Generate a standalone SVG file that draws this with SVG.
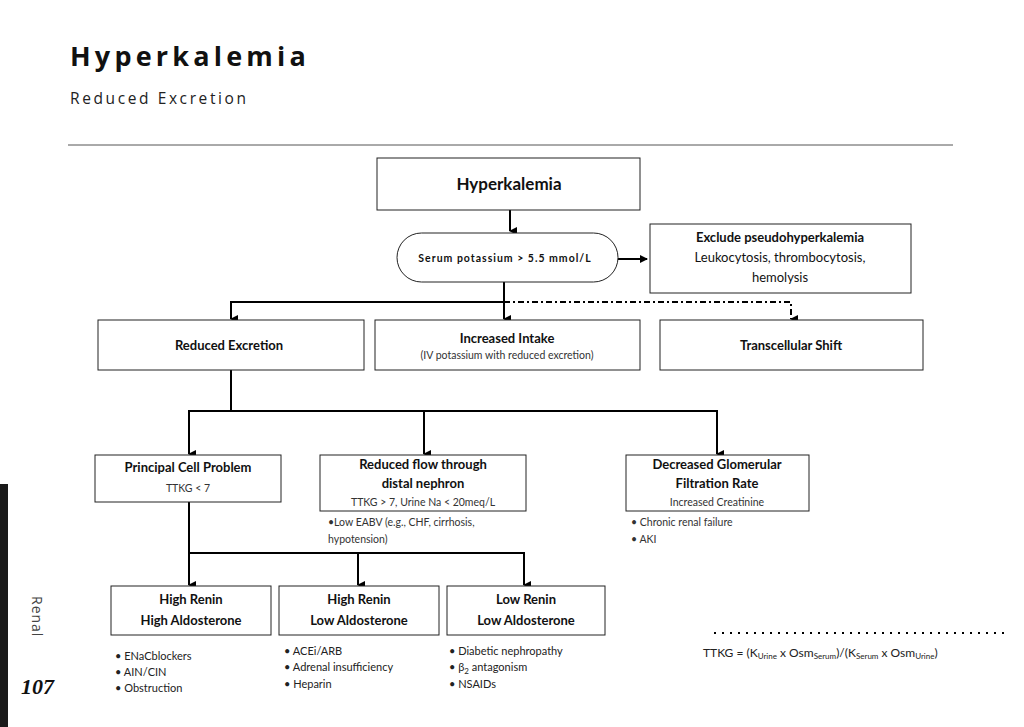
<svg xmlns="http://www.w3.org/2000/svg" width="1024" height="727" viewBox="0 0 1024 727">
<style>
text{font-family:Lato,"Open Sans","Liberation Sans",sans-serif;fill:#111}
.b{font-weight:bold;font-size:13px}
.s{font-size:10.5px;fill:#333}
.l{font-size:11px;fill:#222}
.box{fill:#fff;stroke:#222;stroke-width:1}
.c{fill:none;stroke:#000;stroke-width:2}
</style>
<defs>
<marker id="ah" markerWidth="10" markerHeight="10" refX="5" refY="8" orient="auto" markerUnits="userSpaceOnUse" viewBox="0 0 10 10">
<path d="M1,1 L5,9 L9,1 Z" fill="#000"/>
</marker>
<marker id="ahr" markerWidth="10" markerHeight="10" refX="8" refY="5" orient="auto" markerUnits="userSpaceOnUse" viewBox="0 0 10 10">
<path d="M1,1 L9,5 L1,9 Z" fill="#000"/>
</marker>
</defs>
<rect width="1024" height="727" fill="#fff"/>
<text x="70" y="66" style="font-family:'Open Sans',sans-serif;font-weight:bold;font-size:27px;letter-spacing:4.2px">Hyperkalemia</text>
<text x="70" y="104" style="font-family:'Open Sans',sans-serif;font-size:15.5px;letter-spacing:2.6px;fill:#222">Reduced Excretion</text>
<line x1="68" y1="145" x2="953" y2="145" stroke="#555" stroke-width="1"/>
<rect x="0" y="484" width="8" height="243" fill="#1a1a1a"/>
<text transform="translate(32,596) rotate(90)" style="font-family:'Open Sans',sans-serif;font-size:14px;fill:#444;letter-spacing:1px">Renal</text>
<text x="21" y="694" style="font-family:'Liberation Serif',serif;font-style:italic;font-weight:bold;font-size:22px">107</text>
<g id="connectors">
<line class="c" x1="510" y1="210" x2="510" y2="231" marker-end="url(#ah)"/>
<line class="c" x1="618" y1="259" x2="647" y2="259" stroke-width="1.5" marker-end="url(#ahr)"/>
<line class="c" x1="504" y1="282" x2="504" y2="319" marker-end="url(#ah)"/>
<polyline class="c" points="504,302 231,302 231,319" marker-end="url(#ah)"/>
<polyline class="c" points="504,302 791,302 791,319" stroke-dasharray="6,3,2,3" marker-end="url(#ah)"/>
<line class="c" x1="231" y1="370" x2="231" y2="411"/>
<polyline class="c" points="189,454 189,411 717,411 717,454" marker-end="url(#ah)"/>
<line class="c" x1="189" y1="411" x2="189" y2="454" marker-end="url(#ah)"/>
<line class="c" x1="424" y1="411" x2="424" y2="454" marker-end="url(#ah)"/>
<line class="c" x1="189" y1="502" x2="189" y2="585" stroke-width="1.5" marker-end="url(#ah)"/>
<polyline class="c" points="189,553 524,553 524,585" stroke-width="1.5" marker-end="url(#ah)"/>
<line class="c" x1="358" y1="553" x2="358" y2="585" marker-end="url(#ah)"/>
</g>
<g id="n-hyperkalemia"><rect class="box" x="377" y="158" width="263" height="52"/><text x="509" y="190" text-anchor="middle" style="font-weight:bold;font-size:17px">Hyperkalemia</text></g>
<g id="n-serum"><rect class="box" x="397" y="233" width="221" height="49" rx="24.5"/><text x="505" y="262" text-anchor="middle" style="font-weight:bold;font-size:10.5px;letter-spacing:1px">Serum potassium &gt; 5.5 mmol/L</text></g>
<g id="n-exclude"><rect class="box" x="650" y="224" width="261" height="69"/><text x="780" y="242" text-anchor="middle" class="b">Exclude pseudohyperkalemia</text><text x="780" y="262" text-anchor="middle" style="font-size:13px">Leukocytosis, thrombocytosis,</text><text x="780" y="282" text-anchor="middle" style="font-size:13px">hemolysis</text></g>
<g id="n-reduced"><rect class="box" x="98" y="320" width="266" height="50"/><text x="229" y="350" text-anchor="middle" class="b">Reduced Excretion</text></g>
<g id="n-intake"><rect class="box" x="375" y="320" width="265" height="50"/><text x="507" y="343" text-anchor="middle" class="b">Increased Intake</text><text x="507" y="359" text-anchor="middle" class="s">(IV potassium  with reduced excretion)</text></g>
<g id="n-shift"><rect class="box" x="660" y="320" width="263" height="50"/><text x="791" y="350" text-anchor="middle" class="b">Transcellular Shift</text></g>
<g id="n-principal"><rect class="box" x="95" y="455" width="186" height="47"/><text x="188" y="472" text-anchor="middle" class="b">Principal Cell Problem</text><text x="188" y="492" text-anchor="middle" class="s">TTKG &lt; 7</text></g>
<g id="n-flow"><rect class="box" x="320" y="455" width="206" height="56"/><text x="423" y="469" text-anchor="middle" class="b">Reduced flow through</text><text x="423" y="488" text-anchor="middle" class="b">distal nephron</text><text x="423" y="506" text-anchor="middle" class="s">TTKG &gt; 7, Urine Na &lt; 20meq/L</text>
<text x="328" y="526" class="s">•Low EABV (e.g., CHF, cirrhosis,</text><text x="328" y="543" class="s">hypotension)</text></g>
<g id="n-gfr"><rect class="box" x="626" y="455" width="183" height="56"/><text x="717" y="469" text-anchor="middle" class="b">Decreased Glomerular</text><text x="717" y="488" text-anchor="middle" class="b">Filtration Rate</text><text x="717" y="506" text-anchor="middle" class="s">Increased Creatinine</text>
<text x="631" y="526" class="s">• Chronic renal failure</text><text x="631" y="543" class="s">• AKI</text></g>
<g id="n-hrha"><rect class="box" x="111" y="586" width="160" height="49"/><text x="191" y="604" text-anchor="middle" class="b">High Renin</text><text x="191" y="625" text-anchor="middle" class="b">High Aldosterone</text>
<text x="115" y="660" class="l">• ENaCblockers</text><text x="115" y="676" class="l">• AIN/CIN</text><text x="115" y="692" class="l">• Obstruction</text></g>
<g id="n-hrla"><rect class="box" x="279" y="586" width="160" height="49"/><text x="359" y="604" text-anchor="middle" class="b">High Renin</text><text x="359" y="625" text-anchor="middle" class="b">Low Aldosterone</text>
<text x="284" y="655" class="l">• ACEi/ARB</text><text x="284" y="671" class="l">• Adrenal insufficiency</text><text x="284" y="688" class="l">• Heparin</text></g>
<g id="n-lrla"><rect class="box" x="447" y="586" width="158" height="49"/><text x="526" y="604" text-anchor="middle" class="b">Low Renin</text><text x="526" y="625" text-anchor="middle" class="b">Low Aldosterone</text>
<text x="449" y="655" class="l">• Diabetic nephropathy</text><text x="449" y="671" class="l">• β<tspan font-size="8" dy="3">2</tspan><tspan dy="-3"> antagonism</tspan></text><text x="449" y="688" class="l">• NSAIDs</text></g>
<g id="n-ttkg">
<line x1="714" y1="633" x2="1010" y2="633" stroke="#000" stroke-width="2" stroke-dasharray="2,6"/>
<text x="703" y="657" style="font-size:12px;fill:#222">TTKG = (K<tspan font-size="8" dy="2">Urine</tspan><tspan dy="-2"> x Osm</tspan><tspan font-size="8" dy="2">Serum</tspan><tspan dy="-2">)/(K</tspan><tspan font-size="8" dy="2">Serum</tspan><tspan dy="-2"> x Osm</tspan><tspan font-size="8" dy="2">Urine</tspan><tspan dy="-2">)</tspan></text>
</g>
</svg>
